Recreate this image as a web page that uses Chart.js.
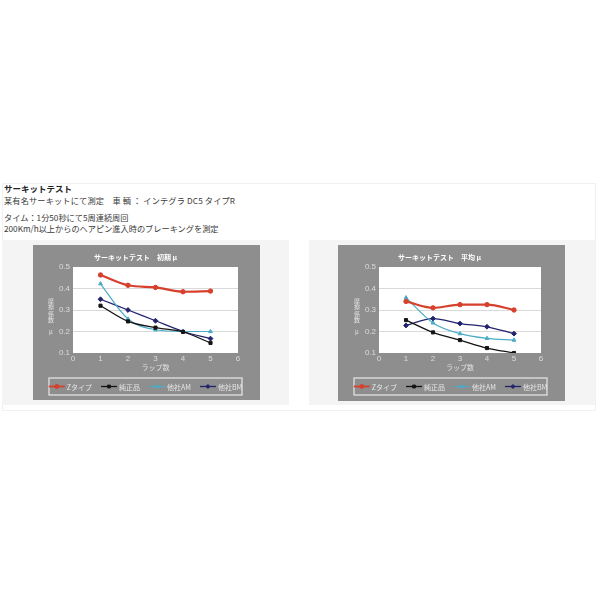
<!DOCTYPE html>
<html><head><meta charset="utf-8">
<script src="https://cdn.jsdelivr.net/npm/chart.js@4/dist/chart.umd.min.js"></script>
<style>
html,body{margin:0;padding:0;background:#fff;width:600px;height:600px;overflow:hidden;}
body{position:relative;font-family:"Noto Sans CJK JP","Noto Sans",sans-serif;color:#3a3a3a;}
.t{position:absolute;left:4px;white-space:nowrap;line-height:1;}
#outer{position:absolute;left:2px;top:183px;width:592px;height:226px;border:1px solid #f1f1f1;}
.panel{position:absolute;top:240px;height:165px;background:#f4f4f4;}
.box{position:absolute;background:#8e8e8e;}
</style></head>
<body>
<div id="outer"></div>
<div class="t" style="top:184px;font-size:8.5px;font-weight:bold;color:#222;">サーキットテスト</div>
<div class="t" style="top:196px;font-size:8.2px;letter-spacing:0.15px;">某有名サーキットにて測定　車 輌 ： インテグラ DC5 タイプR</div>
<div class="t" style="top:213px;font-size:8.2px;">タイム：1分50秒にて5周連続周回</div>
<div class="t" style="top:224px;font-size:8.2px;">200Km/h以上からのヘアピン進入時のブレーキングを測定</div>
<div class="panel" style="left:2px;width:287px;"></div>
<div class="panel" style="left:309px;width:286px;"></div>
<div class="box" style="left:33px;top:245px;width:227px;height:155px;"><canvas id="c1" width="227" height="155"></canvas></div>
<div class="box" style="left:338px;top:245px;width:227px;height:156px;"><canvas id="c2" width="227" height="156"></canvas></div>
<script>
// ---- data ----
const laps = [1, 2, 3, 4, 5];
const seriesNames = ['Zタイプ', '純正品', '他社AM', '他社BM'];
const chartTitles = ['サーキットテスト　初期 μ', 'サーキットテスト　平均 μ'];
const xAxisTitle = 'ラップ数';
const yAxisTitle = ['摩', '擦', '係', '数', '', 'μ'];
const xTicks = [0, 1, 2, 3, 4, 5, 6];
const yTicks = [0.1, 0.2, 0.3, 0.4, 0.5];

// 初期 μ
const initZ  = [0.463, 0.415, 0.405, 0.385, 0.388];
const initOE = [0.320, 0.247, 0.218, 0.198, 0.147];
const initAM = [0.422, 0.258, 0.208, 0.200, 0.200];
const initBM = [0.350, 0.300, 0.250, 0.200, 0.167];
// 平均 μ
const avgZ  = [0.340, 0.310, 0.325, 0.325, 0.300];
const avgOE = [0.253, 0.196, 0.160, 0.123, 0.100];
const avgAM = [0.357, 0.240, 0.190, 0.168, 0.160];
const avgBM = [0.228, 0.260, 0.237, 0.222, 0.190];

const styles = [
  {color:'#d6402c', width:2.2, point:'circle', r:2.2},
  {color:'#141414', width:1.3, point:'rect', r:2.2},
  {color:'#4bacc6', width:1.2, point:'triangle', r:2.2},
  {color:'#22226e', width:1.3, point:'rectRot', r:2.4}
];

function ds(values, i){
  const s = styles[i];
  return {
    label: seriesNames[i],
    data: laps.map((l, k) => ({x: l, y: values[k]})),
    borderColor: s.color, backgroundColor: s.color,
    borderWidth: s.width, pointStyle: s.point, pointRadius: s.r,
    pointBorderWidth: 1, cubicInterpolationMode: 'monotone', fill: false
  };
}

const bgPlugin = {
  id: 'bg',
  beforeDraw(chart){
    const {ctx, chartArea:a} = chart;
    ctx.save();
    ctx.fillStyle = '#8e8e8e';
    ctx.fillRect(0, 0, chart.width, chart.height);
    ctx.fillStyle = '#ffffff';
    ctx.fillRect(a.left, a.top, a.right - a.left, a.bottom - a.top);
    ctx.restore();
  },
  afterDraw(chart){
    const {ctx, chartArea:a} = chart;
    ctx.save();
    // stacked y title
    ctx.fillStyle = '#e4e4e4';
    ctx.font = '6px "Noto Sans CJK JP"';
    ctx.textAlign = 'center';
    ctx.textBaseline = 'middle';
    yAxisTitle.forEach((ch, k) => ctx.fillText(ch, a.left - 22, a.top + 34 + k * 6.2));
    // legend
    const top = a.bottom + 25, h = 17, L = 16, R = chart.width - 18;
    ctx.strokeStyle = '#e2e2e2';
    ctx.lineWidth = 1.3;
    ctx.strokeRect(L, top, R - L, h);
    ctx.font = '7px "Noto Sans CJK JP"';
    ctx.textAlign = 'left';
    const seg = 16, gap = 2, sep = 9;
    const widths = chart.data.datasets.map(d => seg + gap + ctx.measureText(d.label).width);
    const total = widths.reduce((p, c) => p + c, 0) + sep * (widths.length - 1);
    let x = (L + R) / 2 - total / 2;
    const cy = top + h / 2;
    chart.data.datasets.forEach((d, i) => {
      ctx.strokeStyle = d.borderColor;
      ctx.fillStyle = d.backgroundColor;
      ctx.lineWidth = Math.min(d.borderWidth, 1.8);
      ctx.beginPath(); ctx.moveTo(x, cy); ctx.lineTo(x + seg, cy); ctx.stroke();
      ctx.lineWidth = 1;
      Chart.helpers.drawPoint(ctx, {pointStyle: d.pointStyle, radius: 2, rotation: 0, borderWidth: 1}, x + seg / 2, cy);
      ctx.fillStyle = '#e6e6e6';
      ctx.fillText(d.label, x + seg + gap, cy + 0.5);
      x += widths[i] + sep;
    });
    ctx.restore();
  }
};

function makeChart(id, title, data, yW, rightPad, bottomPad){
  return new Chart(document.getElementById(id), {
    type: 'line',
    data: {datasets: data.map((v, i) => ds(v, i))},
    options: {
      responsive: false, animation: false,
      layout: {padding: {left: 0, right: rightPad, top: 0, bottom: bottomPad}},
      plugins: {
        legend: {display: false}, tooltip: {enabled: false},
        title: {display: true, text: title, color: '#ffffff',
          font: {family: '"Noto Sans CJK JP"', size: 7, weight: 'bold', lineHeight: 1.2},
          padding: {top: 7.8, bottom: 5.8}}
      },
      scales: {
        x: {type: 'linear', min: 0, max: 6,
          afterBuildTicks: s => { s.ticks = xTicks.map(v => ({value: v})); },
          afterFit: s => { s.height = 20; },
          grid: {display: false, drawTicks: false}, border: {display: false},
          ticks: {color: '#dcdcdc', padding: 1, font: {family: 'Liberation Sans', size: 8}},
          title: {display: true, text: xAxisTitle, color: '#e0e0e0',
            font: {family: '"Noto Sans CJK JP"', size: 7, lineHeight: 1.2}, padding: {top: 0, bottom: 1}}
        },
        y: {min: 0.1, max: 0.5,
          afterBuildTicks: s => { s.ticks = yTicks.map(v => ({value: v})); },
          afterFit: s => { s.width = yW; },
          grid: {drawTicks: false, lineWidth: 1,
            color: c => (c.tick && (c.tick.value <= 0.1 || c.tick.value >= 0.5)) ? 'rgba(0,0,0,0)' : '#d9d9d9'},
          border: {display: false},
          ticks: {color: '#dcdcdc', padding: 3, font: {family: 'Liberation Sans', size: 8},
            callback: v => v.toFixed(1)}
        }
      }
    },
    plugins: [bgPlugin]
  });
}

makeChart('c1', chartTitles[0], [initZ, initOE, initAM, initBM], 40, 22, 27);
makeChart('c2', chartTitles[1], [avgZ, avgOE, avgAM, avgBM], 41, 24, 28);
</script>
</body></html>
